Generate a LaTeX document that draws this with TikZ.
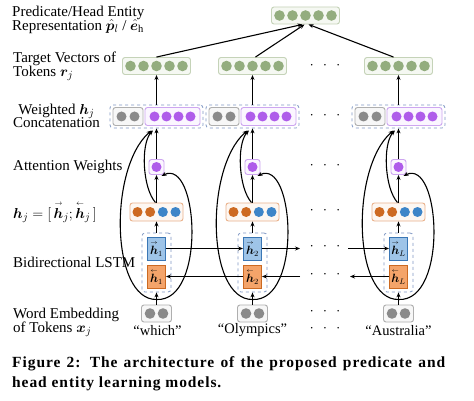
\documentclass[tikz,border=0pt]{standalone}
\usepackage{amsmath}
\usepackage{bm}
\usepackage{fontspec}
\setmainfont{Liberation Serif}
\newfontfamily\capfont[LetterSpace=6]{Liberation Serif}
\usetikzlibrary{arrows.meta,calc}
\definecolor{gdot}{HTML}{93AD7E}
\definecolor{gline}{HTML}{C5D3B8}
\definecolor{gfill}{HTML}{F5F8F2}
\definecolor{pdot}{HTML}{AF5CEA}
\definecolor{pline}{HTML}{CDA6F0}
\definecolor{pfill}{HTML}{FBF6FF}
\definecolor{kdot}{HTML}{8A8A8A}
\definecolor{kline}{HTML}{AFAFAF}
\definecolor{kfill}{HTML}{F7F7F7}
\definecolor{odot}{HTML}{CD6A22}
\definecolor{bdot}{HTML}{3D85C8}
\definecolor{oline}{HTML}{EAB28C}
\definecolor{ofill}{HTML}{FDF7F2}
\definecolor{lblue}{HTML}{9EC4E8}
\definecolor{lblueline}{HTML}{3B77B5}
\definecolor{lor}{HTML}{F4A46A}
\definecolor{lorline}{HTML}{CC6A22}
\definecolor{dashc}{HTML}{8098C4}
\newcommand\dotrow[6]{\foreach \k in {1,...,#3}{\fill[#5] ({#1+(\k-(#3+1)/2)*#4},#2) circle[radius=#6pt];}}
\newcommand\ra{\overset{\scriptscriptstyle\rightarrow}{\bm h}}
\newcommand\la{\overset{\scriptscriptstyle\leftarrow}{\bm h}}
\AtBeginDocument{\lineskiplimit=-8pt\relax}
\begin{document}
\begin{tikzpicture}[x=1pt,y=-1pt,
  lab/.style={anchor=west,inner sep=0pt,font=\fontsize{15}{16}\selectfont},
  lab2/.style={anchor=north west,inner sep=0pt,align=left,font=\fontsize{15}{13.5}\selectfont},
  box/.style={rounded corners=2.5pt,line width=0.9pt,inner sep=0pt},
  gbox/.style={box,draw=gline,fill=gfill,minimum width=68pt,minimum height=17pt},
  kbox/.style={box,draw=kline,fill=kfill,minimum width=30pt,minimum height=18pt},
  pbox/.style={box,draw=pline,fill=pfill,minimum width=55pt,minimum height=18pt},
  abox/.style={box,draw=pline,fill=pfill,minimum width=15pt,minimum height=15pt},
  obox/.style={box,draw=oline,fill=ofill,minimum width=53pt,minimum height=18pt},
  dbox/.style={draw=dashc,dashed,rounded corners=3pt,line width=0.8pt,inner sep=0pt},
  fbox/.style={draw=lblueline,fill=lblue,line width=0.9pt,minimum width=18pt,minimum height=23pt,inner sep=0pt,font=\fontsize{12}{13}\selectfont},
  bbox/.style={draw=lorline,fill=lor,line width=0.9pt,minimum width=18pt,minimum height=23pt,inner sep=0pt,font=\fontsize{12}{13}\selectfont},
  arr/.style={-{Stealth[length=5pt,width=4pt]},line width=1.1pt},
  word/.style={inner sep=0pt,font=\fontsize{14.5}{15}\selectfont},
  dts/.style={inner sep=0pt,font=\fontsize{13}{14}\selectfont}]
\useasboundingbox (0,0) rectangle (474,401);
\fill[white] (0,0) rectangle (474,401);
% left labels
\node[lab2] (l1) at (12,6) {Predicate/Head Entity\\Representation $\hat{\bm p}_l$\ /\ $\hat{\bm e}_{\mathrm h}$};
\node[lab2] (l2) at (13,52) {Target Vectors of\\Tokens $\bm r_j$};
\node[lab2,align=center] (l3) at (13,103.5) {Weighted $\bm h_j$\\Concatenation};
\node[lab] (l4) at (13,167) {Attention Weights};
\node[lab] (l5) at (13,212) {$\bm h_j=[\,\ra_j;\la_j\,]$};
\node[lab] (l6) at (13,262) {Bidirectional LSTM};
\node[lab2] (l7) at (13,308) {Word Embedding\\of Tokens $\bm x_j$};
% top node
\node[gbox] (top) at (305.5,15.5) {};
\dotrow{305.5}{15.5}{5}{13}{gdot}{5.3}
% columns
\foreach \c/\n/\s in {156.5/1/1, 252.5/2/2, 398.5/3/L}{
  \node[gbox] (tv\n) at (\c,66) {};
  \dotrow{\c}{66}{5}{13}{gdot}{5.3}
  \node[dbox,minimum width=93pt,minimum height=23pt] (cc\n) at (\c,116.5) {};
  \node[kbox] (cg\n) at (\c-28.5,116.5) {};
  \dotrow{\c-28.5}{116.5}{2}{13}{kdot}{5}
  \node[pbox] (cp\n) at (\c+16,116.5) {};
  \dotrow{\c+16}{116.5}{4}{12}{pdot}{5}
  \node[abox] (at\n) at (\c,167) {};
  \fill[pdot] (\c,167) circle[radius=5pt];
  \node[obox] (hj\n) at (\c,212) {};
  \fill[odot] (\c-19,212) circle[radius=5pt];
  \fill[odot] (\c-6.35,212) circle[radius=5pt];
  \fill[bdot] (\c+6.35,212) circle[radius=5pt];
  \fill[bdot] (\c+19,212) circle[radius=5pt];
  \node[dbox,minimum width=29pt,minimum height=59pt] (bl\n) at (\c,262.5) {};
  \node[fbox] (f\n) at (\c,248.5) {$\ra_{\s}$};
  \node[bbox] (b\n) at (\c,276.5) {$\la_{\s}$};
  \node[kbox,minimum height=17pt] (em\n) at (\c,313.5) {};
  \dotrow{\c}{313.5}{2}{13}{kdot}{5.3}
  \coordinate (lo\n) at (\c,299.5);
  % vertical arrows
  \draw[arr] (em\n.north) -- (bl\n.south);
  \draw[arr] (bl\n.north) -- (hj\n.south);
  \draw[arr] (hj\n.north) -- (at\n.south);
  \draw[arr] (at\n.north) -- (cc\n.south);
  \draw[arr] (cc\n.north) -- (tv\n.south);
  % curves
  \draw[arr] ([xshift=-1pt]hj\n.north) .. controls (\c-14,188) and (\c-16,144) .. ([xshift=-3.5pt,yshift=-2pt]cc\n.south);
  \draw[arr] (lo\n) .. controls (\c-46,300) and (\c-48,168) .. ([xshift=-5pt,yshift=-2pt]cc\n.south);
  \draw[arr] (lo\n) .. controls (\c+50,302) and (\c+42,158) .. ([xshift=5pt,yshift=-1pt]at\n.south);
}
% words
\node[word] (w1) at (157.5,330.5) {``which''};
\node[word] (w2) at (252.5,330.5) {``Olympics''};
\node[word] (w3) at (398.5,330.5) {``Australia''};
% top arrows
\draw[arr] (tv1.north) -- ([xshift=-3pt]top.south);
\draw[arr] ([xshift=3pt]tv2.north) -- ([xshift=-1pt]top.south);
\draw[arr] ([xshift=-5pt]tv3.north) -- ([xshift=3pt]top.south);
% horizontal LSTM arrows
\coordinate (hr1) at (300,248.5);
\coordinate (hr2) at (348,248.5);
\coordinate (hr3) at (350,276.5);
\coordinate (hr4) at (300,276.5);
\draw[arr] (f1.east) -- (f2.west);
\draw[arr] (b2.west) -- (b1.east);
\draw[arr] (f2.east) -- (hr1);
\draw[arr] (hr2) -- (f3.west);
\draw[arr] (b3.west) -- (hr3);
\draw[arr] (hr4) -- (b2.east);
% dots
\foreach \y/\m in {67/a,117/b,167/c,212/d,248/e,276/f,313/g,330/h}{
  \node[dts] (dots\m) at (325,\y) {·\hspace{9pt}·\hspace{9pt}·};
}
% caption
\node[anchor=base west,inner sep=0pt,font=\capfont\bfseries\fontsize{15.5}{18}\selectfont] (cap1) at (12,367) {\makebox[433pt][s]{Figure 2: The architecture of the proposed predicate and}};
\node[anchor=base west,inner sep=0pt,font=\capfont\bfseries\fontsize{15.5}{18}\selectfont] (cap2) at (12,387) {head entity learning models.};
\end{tikzpicture}
\end{document}
